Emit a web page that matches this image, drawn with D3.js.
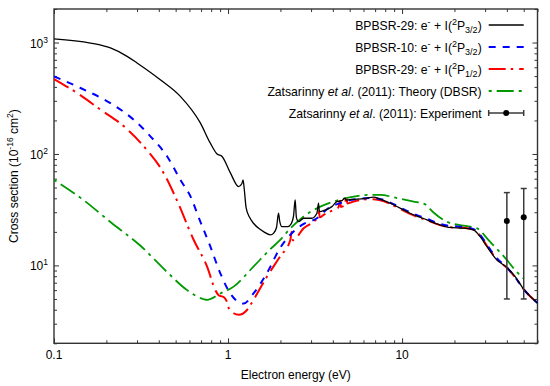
<!DOCTYPE html>
<html>
<head>
<meta charset="utf-8">
<script src="https://cdn.jsdelivr.net/npm/d3@7"></script>
<style>
  body { margin: 0; background: #fff; }
  svg { font-family: "Liberation Sans", Arial, sans-serif; }
</style>
</head>
<body>
<svg id="chart"></svg>
<script>
const width = 550, height = 386;
const margin = { top: 9, right: 12.5, bottom: 42.7, left: 54 };

// BPBSR-29, e- + I(2P3/2)
const energyBlack = [0.1, 0.162, 0.211, 0.263, 0.3, 0.408, 0.532, 0.693, 0.791, 0.865, 0.924, 1.03, 1.15, 1.2, 1.22, 1.24, 1.27, 1.33, 1.4, 1.5, 1.6, 1.75, 1.83, 1.9, 1.95, 1.98, 2.04, 2.2, 2.3, 2.38, 2.43, 2.47, 2.54, 2.72, 3.03, 3.24, 3.31, 3.35, 3.62, 3.95, 4.22, 4.51, 4.7, 4.78, 5.0, 5.5, 6.28, 6.85, 7.48, 8.93, 11.1, 13.9, 16.5, 18.9, 22.5, 25.7, 28.1, 30.7, 35, 40, 45, 50, 55, 60];
const sigmaBlack = [1080, 990, 894, 752, 656, 464, 329, 190, 125, 100, 95, 68, 51, 54, 58.6, 48, 33, 27, 23.9, 21.5, 20.1, 18.8, 19.5, 22, 29.4, 25, 22.3, 22.3, 23.5, 28, 38.8, 27, 24.7, 26.5, 26.5, 29.4, 36.2, 30.4, 31.5, 33.7, 37.4, 38.2, 40.2, 38.5, 39, 39.3, 40.2, 41, 39.3, 35, 29.4, 25.6, 23.1, 21.9, 21.6, 20.8, 18.1, 14.8, 11.2, 9.6, 7.8, 6.1, 5.2, 4.6];

// BPBSR-10, e- + I(2P3/2)
const energyBlue = [0.1, 0.142, 0.211, 0.287, 0.358, 0.447, 0.532, 0.621, 0.664, 0.791, 0.903, 1.03, 1.18, 1.23, 1.4, 1.67, 1.99, 2.66, 3.24, 3.78, 4.41, 5.15, 6.56, 7.82, 8.93, 11.1, 13.9, 16.5, 18.9, 22.5, 25.7, 28.1, 30.7, 35, 40, 45, 50, 55, 60];
const sigmaBlue = [497, 391, 286, 203, 144, 95, 58.6, 38.8, 29.4, 14.8, 8.5, 5.6, 4.6, 4.55, 5.6, 8.5, 14.3, 23.1, 26.5, 32.7, 36.2, 38.8, 40.2, 38.8, 35.5, 30, 26.2, 23.6, 22.6, 22.2, 21.2, 18.8, 15.4, 11.6, 9.6, 7.7, 6.1, 5.2, 4.6];

// BPBSR-29, e- + I(2P1/2)
const energyRed = [0.1, 0.136, 0.185, 0.252, 0.328, 0.427, 0.51, 0.635, 0.758, 0.846, 0.884, 0.944, 0.98, 1.01, 1.077, 1.15, 1.285, 1.4, 1.67, 1.99, 2.28, 2.32, 2.36, 2.72, 3.1, 3.3, 3.33, 3.36, 3.54, 4.04, 4.3, 4.4, 4.45, 4.7, 4.78, 4.85, 5.27, 6.56, 7.48, 8.93, 11.1, 13.9, 16.5, 18.9, 22.5, 25.7, 28.1, 30.7, 35, 40, 45, 50, 55, 60];
const sigmaRed = [471, 352, 250, 177, 117, 67.3, 38, 16.9, 9.75, 6.0, 5.4, 5.2, 4.8, 4.13, 3.72, 3.6, 3.98, 4.9, 7.9, 12, 16.9, 20, 16.8, 21.6, 24.7, 27.5, 31, 27, 28.4, 31.5, 33, 38, 33.5, 35, 42, 36, 37.4, 39.3, 38.5, 34.5, 29, 25.4, 23, 22, 21.8, 21, 18.5, 15, 11.4, 9.5, 7.7, 6.1, 5.2, 4.6];

// Zatsarinny et al. (2011), DBSR theory
const energyGreen = [0.1, 0.148, 0.211, 0.314, 0.447, 0.582, 0.725, 0.758, 0.903, 1.077, 1.4, 1.75, 2.0, 2.28, 2.72, 3.39, 4.22, 5.27, 6.56, 7.48, 9.33, 11.6, 13.5, 15.1, 18, 22.5, 26.8, 31.9, 40, 44.8, 50];
const sigmaGreen = [58.6, 38.5, 24.5, 15, 8.7, 6.0, 4.97, 4.9, 5.6, 6.45, 9.75, 14, 17, 21.5, 27.5, 33.7, 38.2, 41.5, 43, 43, 40.2, 37.4, 35.5, 30, 24.7, 22.7, 21.6, 16.4, 11.2, 9.0, 7.6];

// Zatsarinny et al. (2011), experiment
const energyExp = [40, 50];
const sigmaExp = [25, 27];
const errorExp = [20, 22];

const xMajor = [0.1, 1, 10];
const xMajorLabels = ["0.1", "1", "10"];
const yMajor = [10, 100, 1000];
const yMajorExp = ["1", "2", "3"];

const w = width - margin.left - margin.right;
const h = height - margin.top - margin.bottom;

const svg = d3.select("#chart").attr("width", width).attr("height", height);
const g = svg.append("g").attr("transform", "translate(" + margin.left + "," + margin.top + ")");

const x = d3.scaleLog().domain([0.1, 60]).range([0, w]);
const y = d3.scaleLog().domain([2, 2000]).range([h, 0]);

// minor ticks
const xMinor = [];
[0.1, 1, 10].forEach(d => { for (let k = 2; k <= 9; k++) { const v = d * k; if (v <= 60) xMinor.push(v); } });
const yMinor = [];
[1, 10, 100, 1000].forEach(d => { for (let k = 2; k <= 9; k++) { const v = d * k; if (v >= 2 && v <= 2000) yMinor.push(v); } });

const axisColor = "#333";
function styleAxis(sel) {
  sel.select(".domain").remove();
  sel.selectAll("line").attr("stroke", axisColor).attr("stroke-width", 1);
  sel.selectAll("text").remove();
}

g.append("g").attr("transform", "translate(0," + h + ")")
  .call(d3.axisBottom(x).tickValues(xMajor).tickSize(-5)).call(styleAxis);
g.append("g").attr("transform", "translate(0," + h + ")")
  .call(d3.axisBottom(x).tickValues(xMinor).tickSize(-3)).call(styleAxis);
g.append("g")
  .call(d3.axisTop(x).tickValues(xMajor).tickSize(-5)).call(styleAxis);
g.append("g")
  .call(d3.axisTop(x).tickValues(xMinor).tickSize(-3)).call(styleAxis);
g.append("g")
  .call(d3.axisLeft(y).tickValues(yMajor).tickSize(-5)).call(styleAxis);
g.append("g")
  .call(d3.axisLeft(y).tickValues(yMinor).tickSize(-3)).call(styleAxis);
g.append("g").attr("transform", "translate(" + w + ",0)")
  .call(d3.axisRight(y).tickValues(yMajor).tickSize(-5)).call(styleAxis);
g.append("g").attr("transform", "translate(" + w + ",0)")
  .call(d3.axisRight(y).tickValues(yMinor).tickSize(-3)).call(styleAxis);

// frame
g.append("rect")
  .attr("width", w).attr("height", h)
  .attr("fill", "none").attr("stroke", axisColor).attr("stroke-width", 1.4);

// tick labels
g.selectAll(".xlab").data(xMajor).enter().append("text")
  .attr("x", d => x(d)).attr("y", h + 16)
  .attr("text-anchor", "middle").style("font-size", "12px")
  .text((d, i) => xMajorLabels[i]);

const ylab = g.selectAll(".ylab").data(yMajor).enter().append("text")
  .attr("x", -6).attr("y", d => y(d) + 5)
  .attr("text-anchor", "end").style("font-size", "12px");
ylab.append("tspan").text("10");
ylab.append("tspan").attr("dy", -5).style("font-size", "8.5px").text((d, i) => yMajorExp[i]);

// axis titles
g.append("text")
  .attr("x", w / 2).attr("y", h + 36)
  .attr("text-anchor", "middle").style("font-size", "12px")
  .text("Electron energy (eV)");

const yt = g.append("text")
  .attr("transform", "translate(-36," + h / 2 + ") rotate(-90)")
  .attr("text-anchor", "middle").style("font-size", "12px");
yt.append("tspan").text("Cross section (10");
yt.append("tspan").attr("dy", -5).style("font-size", "8.5px").text("-16");
yt.append("tspan").attr("dy", 5).text(" cm");
yt.append("tspan").attr("dy", -5).style("font-size", "8.5px").text("2");
yt.append("tspan").attr("dy", 5).text(")");

// curves
g.append("clipPath").attr("id", "clip").append("rect").attr("width", w).attr("height", h);
const plot = g.append("g").attr("clip-path", "url(#clip)");

const line = d3.line()
  .x(d => x(d[0]))
  .y(d => y(d[1]))
  .curve(d3.curveMonotoneX);

const series = [
  { e: energyGreen, s: sigmaGreen, color: "#009a00", width: 1.8, dash: "3,5,17,5" },
  { e: energyRed, s: sigmaRed, color: "#ff0000", width: 2, dash: "17,5,2.5,6" },
  { e: energyBlue, s: sigmaBlue, color: "#0000ff", width: 2, dash: "7,7" },
  { e: energyBlack, s: sigmaBlack, color: "#000", width: 1.3, dash: null }
];

series.forEach(sr => {
  plot.append("path")
    .datum(sr.e.map((d, i) => [d, sr.s[i]]))
    .attr("fill", "none")
    .attr("stroke", sr.color)
    .attr("stroke-width", sr.width)
    .attr("stroke-dasharray", sr.dash)
    .attr("d", line);
});

// experiment with error bars
const exp = energyExp.map((d, i) => ({ e: d, s: sigmaExp[i], err: errorExp[i] }));
const eb = g.append("g").attr("stroke", "#3a3a3a").attr("stroke-width", 1.5);
eb.selectAll(".bar").data(exp).enter().append("line")
  .attr("x1", d => x(d.e)).attr("x2", d => x(d.e))
  .attr("y1", d => y(d.s + d.err)).attr("y2", d => y(d.s - d.err));
eb.selectAll(".capt").data(exp).enter().append("line")
  .attr("x1", d => x(d.e) - 3).attr("x2", d => x(d.e) + 3)
  .attr("y1", d => y(d.s + d.err)).attr("y2", d => y(d.s + d.err));
eb.selectAll(".capb").data(exp).enter().append("line")
  .attr("x1", d => x(d.e) - 3).attr("x2", d => x(d.e) + 3)
  .attr("y1", d => y(d.s - d.err)).attr("y2", d => y(d.s - d.err));
g.selectAll(".pt").data(exp).enter().append("circle")
  .attr("cx", d => x(d.e)).attr("cy", d => y(d.s)).attr("r", 3)
  .attr("fill", "#000");

// legend
const legend = g.append("g");
const legX = 427.7, legY0 = 16, legDy = 22;
const legLabels = [
  [["BPBSR-29: e"], ["-", "sup"], [" + I("], ["2", "sup"], ["P"], ["3/2", "sub"], [")"]],
  [["BPBSR-10: e"], ["-", "sup"], [" + I("], ["2", "sup"], ["P"], ["3/2", "sub"], [")"]],
  [["BPBSR-29: e"], ["-", "sup"], [" + I("], ["2", "sup"], ["P"], ["1/2", "sub"], [")"]],
  [["Zatsarinny "], ["et al", "it"], [". (2011): Theory (DBSR)"]],
  [["Zatsarinny "], ["et al", "it"], [". (2011): Experiment"]]
];

legLabels.forEach((parts, i) => {
  const ly = legY0 + i * legDy;
  const t = legend.append("text")
    .attr("x", legX).attr("y", ly + 4.5)
    .attr("text-anchor", "end").style("font-size", "12.2px");
  let shift = 0;
  parts.forEach(p => {
    const sp = t.append("tspan").text(p[0]);
    let target = 0;
    if (p[1] === "sup") { target = -5; sp.style("font-size", "9px"); }
    if (p[1] === "sub") { target = 3; sp.style("font-size", "9px"); }
    if (p[1] === "it") sp.style("font-style", "italic");
    if (target !== shift) { sp.attr("dy", target - shift); shift = target; }
  });
  if (i < 4) {
    const sr = series[3 - i];
    legend.append("line")
      .attr("x1", legX + 7).attr("x2", legX + 42)
      .attr("y1", ly).attr("y2", ly)
      .attr("stroke", sr.color).attr("stroke-width", sr.width)
      .attr("stroke-dasharray", sr.dash);
  } else {
    legend.append("line")
      .attr("x1", legX + 7).attr("x2", legX + 42)
      .attr("y1", ly).attr("y2", ly)
      .attr("stroke", "#3a3a3a").attr("stroke-width", 1.5);
    [legX + 7, legX + 42].forEach(cx => {
      legend.append("line")
        .attr("x1", cx).attr("x2", cx).attr("y1", ly - 3).attr("y2", ly + 3)
        .attr("stroke", "#3a3a3a").attr("stroke-width", 1.5);
    });
    legend.append("circle").attr("cx", legX + 24.5).attr("cy", ly).attr("r", 3).attr("fill", "#000");
  }
});
</script>
</body>
</html>
